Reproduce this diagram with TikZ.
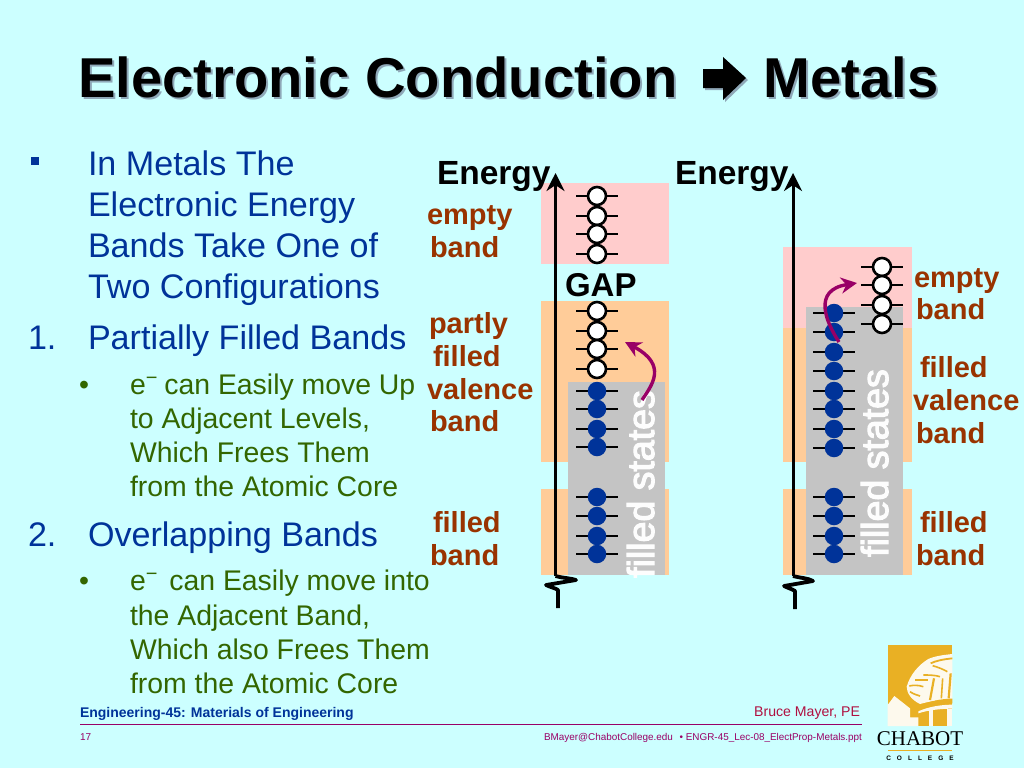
\documentclass[tikz,border=0pt]{standalone}
\usepackage{fontspec}
\setmainfont{Liberation Sans}
\newfontfamily\serifface{Liberation Serif}
\newfontfamily\stateface[FakeBold=3]{Liberation Sans}
\usetikzlibrary{arrows.meta}
\definecolor{bgc}{HTML}{CCFFFF}
\definecolor{bodyc}{HTML}{003399}
\definecolor{subc}{HTML}{336600}
\definecolor{brownc}{HTML}{993300}
\definecolor{pinkc}{HTML}{FFCCCC}
\definecolor{orangec}{HTML}{FFCC99}
\definecolor{grayc}{HTML}{C4C4C4}
\definecolor{elec}{HTML}{003399}
\definecolor{magc}{HTML}{990066}
\definecolor{goldc}{HTML}{E9B024}
\definecolor{shadowc}{HTML}{8FA8B8}
\definecolor{redfoot}{HTML}{B01040}
\newcommand{\fs}[1]{\fontsize{#1}{#1}\selectfont}
\newcommand{\minussup}[1]{\raisebox{0.34em}{\fontsize{#1}{#1}\selectfont −}}
\tikzset{
  x=1pt,y=-1pt,
  txt/.style={anchor=base west,inner sep=0pt,outer sep=0pt},
  main/.style={txt,text=bodyc,font=\fs{34.1}},
  sub/.style={txt,text=subc,font=\fs{28.4}},
  lab/.style={txt,text=brownc,font=\bfseries\fs{29}},
  energy/.style={txt,text=black,font=\bfseries\fs{33.5}},
  ttl/.style={txt,font=\bfseries\fs{56.2}},
  st/.style={txt,anchor=base,rotate=90,text=white!96!grayc,font=\stateface\fs{37.5}},
  hole/.style={circle,draw=black,line width=2.6pt,fill=white,minimum size=18pt,inner sep=0pt},
  full/.style={circle,draw=none,fill=elec,minimum size=18.5pt,inner sep=0pt},
  lvl/.style={black,line width=2.4pt},
  axisline/.style={black,line width=3pt},
  axistip/.style={axisline,-{Stealth[length=18pt,width=18pt]}},
  jump/.style={magc,line width=3.4pt,-{Stealth[length=16pt,width=16pt]}},
  breakline/.style={black,line width=3.8pt,line join=round},
}
\newcommand{\lev}[5]{% name, x, y, style
  \draw[lvl] (#2-21,#3) -- (#2+21,#3);
  \node[#4] (#1) at (#2,#3) {};}
\begin{document}
\begin{tikzpicture}
\useasboundingbox (0,0) rectangle (1024,768);
\fill[bgc] (0,0) rectangle (1024,768);

% title
\node[ttl,text=shadowc] (titleshadow) at (80,99.5) {Electronic Conduction};
\node[ttl,text=shadowc] (titleshadowb) at (765.5,99.5) {Metals};
\fill[shadowc] (705,71) -- (725,71) -- (725,59) -- (748,80) -- (725,102) -- (725,90) -- (705,90) -- cycle;
\node[ttl] (title) at (78,97.5) {Electronic Conduction};
\node[ttl] (titleb) at (763.5,97.5) {Metals};
\fill[black] (703,69) -- (723,69) -- (723,57) -- (746,78) -- (723,100) -- (723,88) -- (703,88) -- cycle;

% left text
\fill[bodyc] (31,157) rectangle (39,165);
\node[main] (t1) at (88,175) {In Metals The};
\node[main] (t2) at (88,216) {Electronic Energy};
\node[main] (t3) at (88,257) {Bands Take One of};
\node[main] (t4) at (88,298) {Two Configurations};
\node[main] (n1) at (28,349) {1.};
\node[main] (t5) at (88,349) {Partially Filled Bands};
\node[sub] (b1) at (79,394) {•};
\node[sub] (s1) at (130,394) {e\minussup{20}\hspace{-1pt} can Easily move Up};
\node[sub] (s2) at (130,428) {to Adjacent Levels,};
\node[sub] (s3) at (130,462) {Which Frees Them};
\node[sub] (s4) at (130,496) {from the Atomic Core};
\node[main] (n2) at (28,546) {2.};
\node[main] (t6) at (88,546) {Overlapping Bands};
\node[sub] (b2) at (79,590) {•};
\node[sub] (s5) at (130,590) {e\minussup{20}\hspace{4pt} can Easily move into};
\node[sub] (s6) at (130,625) {the Adjacent Band,};
\node[sub] (s7) at (130,659) {Which also Frees Them};
\node[sub] (s8) at (130,693) {from the Atomic Core};

% left diagram bands
\fill[pinkc] (541,183) rectangle (669,264);
\fill[orangec] (541,301) rectangle (669,462);
\fill[orangec] (541,489) rectangle (669,575);
\fill[grayc] (568,382) rectangle (665,575);

% right diagram bands
\fill[pinkc] (783,247) rectangle (912,328);
\fill[orangec] (783,328) rectangle (912,462);
\fill[orangec] (783,489) rectangle (912,575);
\fill[grayc] (806,307) rectangle (903,575);

% filled-states labels
\node[st] (fsl) at (654,484) {filled states};
\node[st] (fsr) at (888,463) {filled states};

% left levels
\foreach \i/\y in {1/196,2/216,3/234,4/254,5/311,6/331,7/349,8/369}{\lev{la\i}{597}{\y}{hole}{}}
\foreach \i/\y in {1/391,2/409,3/429,4/447,5/497,6/516,7/536,8/554}{\lev{lb\i}{597}{\y}{full}{}}
% right levels
\foreach \i/\y in {1/267,2/285,3/305,4/324}{\lev{ra\i}{882}{\y}{hole}{}}
\foreach \i/\y in {1/313,2/332,3/352,4/371,5/391,6/409,7/429,8/448,9/497,10/516,11/536,12/554}{\lev{rb\i}{834}{\y}{full}{}}

% axes
\coordinate (lbot) at (555.5,576);
\coordinate (ltop) at (555.5,173);
\coordinate (rbot) at (793,576);
\coordinate (rtop) at (793,173);
\draw[axistip] (lbot) -- (ltop);
\draw[axistip] (rbot) -- (rtop);
\draw[breakline] (lbot) .. controls (562,578) and (570,578) .. (576,580) -- (546,585) .. controls (550,587) and (555,588) .. (558,590) -- (558,608);
\draw[breakline] (rbot) .. controls (800,578) and (808,578) .. (813,581) -- (784,586) .. controls (788,588) and (792,589) .. (795,591) -- (795,609);

% jump arrows
\coordinate (j1a) at (642,400);
\coordinate (j1b) at (625,342);
\coordinate (j2a) at (839,342);
\coordinate (j2b) at (857,283);
\draw[jump] (j1a) .. controls (652,385) and (668,365) .. (j1b);
\draw[jump] (j2a) .. controls (826,322) and (812,290) .. (j2b);

% diagram labels
\node[energy] (el) at (437,184) {Energy};
\node[energy] (er) at (675,184) {Energy};
\node[txt,text=black,font=\bfseries\fs{33}] (gap) at (565,296) {GAP};
\node[lab] (l1) at (427,224) {empty};
\node[lab] (l2) at (430,257) {band};
\node[lab] (l3) at (429,333) {partly};
\node[lab] (l4) at (433,366) {filled};
\node[lab] (l5) at (427,399) {valence};
\node[lab] (l6) at (430,431) {band};
\node[lab] (l7) at (433,532) {filled};
\node[lab] (l8) at (430,565) {band};
\node[lab] (r1) at (914,287) {empty};
\node[lab] (r2) at (916,319) {band};
\node[lab] (r3) at (920,377) {filled};
\node[lab] (r4) at (913,410) {valence};
\node[lab] (r5) at (916,443) {band};
\node[lab] (r6) at (920,532) {filled};
\node[lab] (r7) at (916,565) {band};

% footer
\node[txt,text=bodyc,font=\bfseries\fs{14}] (f1) at (80,717) {Engineering-45: Materials of Engineering};
\node[txt,anchor=base east,text=redfoot,font=\fs{14.1}] (f2) at (860,716) {Bruce Mayer, PE};
\fill[magc] (80,723.5) rectangle (862,725);
\node[txt,text=magc,font=\fs{10}] (f3) at (80,740) {17};
\node[txt,anchor=base east,text=magc,font=\fs{9.9}] (f4) at (862,740) {BMayer@ChabotCollege.edu\hspace{4pt} • ENGR-45\_Lec-08\_ElectProp-Metals.ppt};

% logo
\begin{scope}[shift={(860,630)},x=0.3333pt,y=-0.3333pt]
\fill[goldc] (83,45) rectangle (277,288);
\fill[white!92!goldc] (83,288) -- (83,225) -- (103,198) -- (150,235) -- (150,262) -- (175,262) -- (175,288) -- cycle;
\fill[white!92!goldc] (277,72) .. controls (250,75) and (225,78) .. (205,87) .. controls (175,105) and (150,135) .. (140,170) .. controls (140,190) and (155,210) .. (180,222) .. controls (205,215) and (240,208) .. (277,208) -- cycle;
\draw[goldc,line width=1.8pt] (277,85) .. controls (250,88) and (228,92) .. (212,100);
\draw[goldc,line width=1.6pt] (218,107) .. controls (235,112) and (250,118) .. (262,125);
\draw[goldc,line width=1.6pt] (190,135) .. controls (205,135) and (225,135) .. (240,140);
\draw[goldc,line width=1.6pt] (165,150) -- (205,150);
\draw[goldc,line width=1.6pt] (148,168) .. controls (160,165) and (175,165) .. (190,170);
\draw[goldc,line width=1.6pt] (150,185) .. controls (160,192) and (170,195) .. (180,198);
\draw[goldc,line width=2.2pt] (222,145) -- (210,210);
\draw[goldc,line width=2.2pt] (272,130) -- (266,205);
\draw[goldc,line width=1.6pt] (248,145) -- (244,205);
\fill[goldc] (175,232) .. controls (205,213) and (245,206) .. (277,206) -- (277,220) .. controls (245,220) and (205,227) .. (175,244) -- cycle;
\fill[white!92!goldc] (175,244) .. controls (205,230) and (245,224) .. (277,224) -- (277,236) .. controls (245,236) and (205,240) .. (175,250) -- cycle;
\fill[white!92!goldc] (206,240) rectangle (218,288);
\fill[white!92!goldc] (262,236) rectangle (275,288);
\fill[goldc] (85,360) rectangle (277,363);
\end{scope}
\node[anchor=base,inner sep=0pt,text=black,font=\serifface\fs{21}] (chabot) at (920,745) {CHABOT};
\node[anchor=base,inner sep=0pt,text=black,font=\bfseries\fs{6.5}] (college) at (920,760) {C\hspace{6pt}O\hspace{6pt}L\hspace{6pt}L\hspace{6pt}E\hspace{6pt}G\hspace{6pt}E};
\end{tikzpicture}
\end{document}
